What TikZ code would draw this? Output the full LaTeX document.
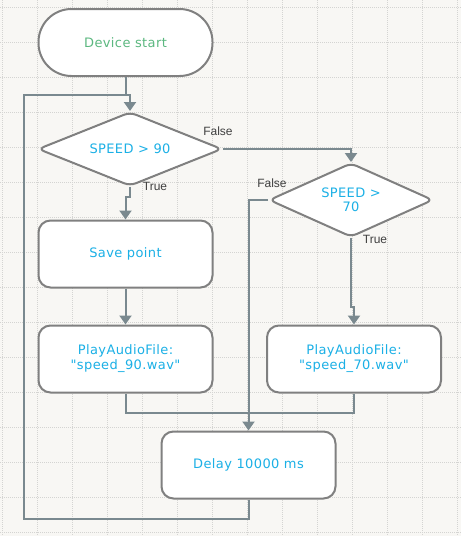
\documentclass[tikz,border=0pt]{standalone}
\usepackage{fontspec}
\defaultfontfeatures[\rmfamily]{}
\setmainfont{DejaVu Sans}[LetterSpace=3]
\newfontfamily\labelfont{Liberation Sans}
\usetikzlibrary{shapes.geometric,arrows.meta}
\definecolor{bgpaper}{RGB}{248,247,244}
\definecolor{gridgray}{RGB}{212,212,210}
\definecolor{boxgray}{RGB}{128,128,128}
\definecolor{linkgray}{RGB}{122,137,143}
\definecolor{txtcyan}{RGB}{27,176,230}
\definecolor{txtgreen}{RGB}{92,184,128}
\tikzset{
  block/.style={draw=boxgray, line width=2pt, fill=white, rounded corners=12pt,
    minimum width=174pt, minimum height=67pt, text=txtcyan, align=center,
    font=\fontsize{13}{15}\selectfont},
  startbox/.style={block, rounded corners=33pt, text=txtgreen},
  decision/.style={draw=boxgray, line width=2pt, fill=white, diamond, aspect=2.4,
    rounded corners=6pt, inner sep=0pt, text=txtcyan, align=center,
    font=\fontsize{13}{14}\selectfont},
  link/.style={draw=linkgray, line width=2pt, -{Triangle[width=12pt,length=9pt]}},
  joint/.style={draw=linkgray, line width=2pt},
  branch/.style={font=\labelfont\fontsize{12}{14}\selectfont, text=black!75},
  gridline/.style={draw=gridgray, line width=1pt, dash pattern=on 1pt off 1pt}
}
\begin{document}
\begin{tikzpicture}[x=1pt,y=-1pt]
    \useasboundingbox (0,0) rectangle (461,536);
    \fill[bgpaper] (0,0) rectangle (461,536);
    \foreach \gx in {2,37,...,457} \draw[gridline] (\gx,0) -- (\gx,536);
    \foreach \gy in {7,42,...,532} \draw[gridline] (0,\gy) -- (461,\gy);

    \node[startbox] (start) at (125.5,42.5) {Device start};
    \node[decision, minimum width=184pt, minimum height=74pt] (speedA) at (130,149) {SPEED > 90};
    \node[decision, minimum width=164pt, minimum height=74pt] (speedB) at (351,200) {SPEED >\\70};
    \node[block] (save) at (125.5,254) {Save point};
    \node[block] (playA) at (125.5,359) {PlayAudioFile:\\"speed\_90.wav"};
    \node[block] (playB) at (354,359) {PlayAudioFile:\\"speed\_70.wav"};
    \node[block] (delay) at (248.5,465) {Delay 10000 ms};
    \coordinate (entry) at (130,95);

    \draw[link] (start.south) |- (entry) -- (speedA.north);
    \draw[joint] (delay.south) -- ++(0,19) -| (24,95) -- (entry);
    \draw[link] (speedA.south) -- ++(0,10) -| (save.north);
    \draw[link] (speedA.east) -| (speedB.north);
    \draw[link] (speedB.south) -- ++(0,69) -| (playB.north);
    \draw[link] (speedB.west) -| (delay.north);
    \draw[link] (save.south) -- (playA.north);
    \draw[joint] (playA.south) -- ++(0,19) -| (playB.south);

    \node[branch] (trueA) at (155,186) {True};
    \node[branch] (falseA) at (218,131) {False};
    \node[branch] (trueB) at (375,239) {True};
    \node[branch] (falseB) at (272,183) {False};
\end{tikzpicture}
\end{document}
